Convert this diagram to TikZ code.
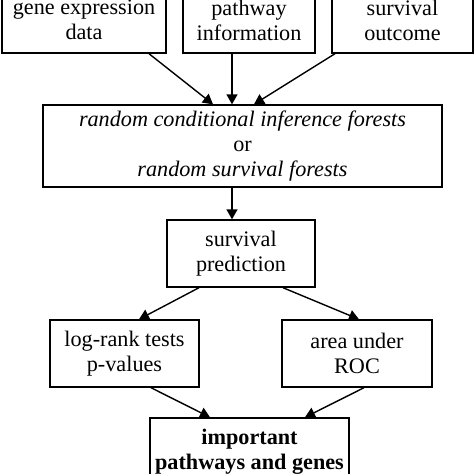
\documentclass[tikz,border=0pt]{standalone}
\usepackage{fontspec}
\setmainfont{Liberation Serif}
\usetikzlibrary{arrows.meta}
\begin{document}
\begin{tikzpicture}
		[x=1pt,y=-1pt,
		box/.style={draw,line width=1.4pt,align=center,inner sep=0pt,
			font=\fontsize{22.2}{25}\selectfont},
		flow/.style={line width=1.4pt,-{Triangle[length=10pt,width=11pt]}}]
		\useasboundingbox (0,0) rectangle (474,474);
		% inputs
		\node[box,minimum width=164pt,minimum height=66pt] (gene) at (84,20) {gene expression\\data};
		\node[box,minimum width=132pt,minimum height=66pt] (path) at (249,20) {pathway\\information};
		\node[box,minimum width=141pt,minimum height=66pt] (surv) at (402.5,20) {survival\\outcome};
		% forests
		\node[box,minimum width=399pt,minimum height=82pt] (forest) at (242.5,146)
			{\textit{random conditional inference forests}\\or\\\textit{random survival forests}};
		\node[box,minimum width=148pt,minimum height=67pt] (pred) at (241,253.5) {survival\\prediction};
		% evaluation
		\node[box,minimum width=149pt,minimum height=67pt] (logrank) at (124.5,353.5) {log-rank tests\\p-values};
		\node[box,minimum width=150pt,minimum height=67pt] (auc) at (357,353.5) {area under\\ROC};
		\node[box,minimum width=199pt,minimum height=67pt] (imp) at (249.5,451.5) {\textbf{important}\\\textbf{pathways and genes}};
		% connectors
		\draw[flow] ([xshift=65pt]gene.south) -- ([xshift=-29.5pt]forest.north);
		\draw[flow] ([xshift=-17pt]path.south) -- ([xshift=-10.5pt]forest.north);
		\draw[flow] ([xshift=-67.5pt]surv.south) -- ([xshift=11.5pt]forest.north);
		\draw[flow] ([xshift=-10.5pt]forest.south) -- ([xshift=-9pt]pred.north);
		\draw[flow] ([xshift=-42pt]pred.south) -- ([xshift=14.5pt]logrank.north);
		\draw[flow] ([xshift=42pt]pred.south) -- ([xshift=2pt]auc.north);
		\draw[flow] ([xshift=26.5pt]logrank.south) -- ([xshift=-39.5pt]imp.north);
		\draw[flow] ([xshift=7pt]auc.south) -- ([xshift=55.5pt]imp.north);
	\end{tikzpicture}
\end{document}
